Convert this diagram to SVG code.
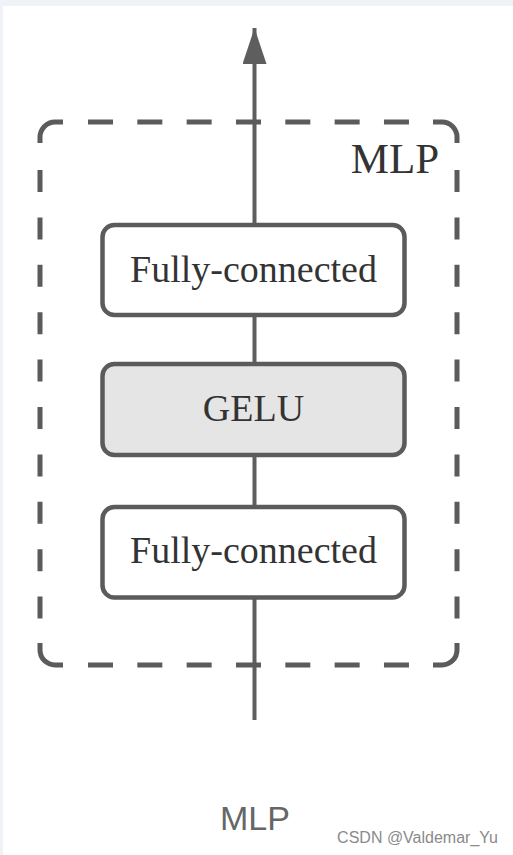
<svg xmlns="http://www.w3.org/2000/svg" width="513" height="855" viewBox="0 0 513 855">
<style>
.box{fill:#fff;stroke:#5b5b5b;stroke-width:4.5}
.gelu{fill:#e5e5e5}
.lbl{font-family:"Liberation Serif","Times New Roman",serif;font-size:38px;fill:#333;text-anchor:middle}
.dh{stroke:#5b5b5b;stroke-width:5;fill:none;stroke-dasharray:25 24.33}
.dv{stroke:#5b5b5b;stroke-width:5;fill:none;stroke-dasharray:22 25.4}
.corner{stroke:#5b5b5b;stroke-width:5;fill:none}
.wire{stroke:#5e5e5e;stroke-width:4;fill:none}
</style>
<defs>
<marker id="ah" markerWidth="36" markerHeight="24" refX="36" refY="12" orient="auto" markerUnits="userSpaceOnUse" viewBox="0 0 36 24">
<path d="M0,0 L36,12 L0,24 Z" fill="#5e5e5e"/>
</marker>
</defs>
<rect x="0" y="0" width="513" height="855" fill="#eff3f7"/>
<rect x="3" y="6" width="510" height="849" fill="#ffffff"/>
<g id="connectors">
<line class="wire" x1="254.5" y1="720" x2="254.5" y2="28" marker-end="url(#ah)"/>
</g>
<g id="mlp-group">
<path class="corner" d="M40,143 L40,137 A15,15 0 0 1 55,122 L63,122"/>
<path class="corner" d="M433,122 L442,122 A15,15 0 0 1 457,137 L457,143"/>
<path class="corner" d="M40,643 L40,650 A15,15 0 0 0 55,665 L63,665"/>
<path class="corner" d="M433,665 L442,665 A15,15 0 0 0 457,650 L457,643"/>
<line class="dh" x1="88" y1="122" x2="409" y2="122"/>
<line class="dh" x1="88" y1="665" x2="409" y2="665"/>
<line class="dv" x1="40" y1="170" x2="40" y2="619"/>
<line class="dv" x1="457" y1="170" x2="457" y2="619"/>
<text x="395" y="173" font-family="Liberation Serif, Times New Roman, serif" font-size="43" fill="#333" text-anchor="middle">MLP</text>
</g>
<g id="fc-top">
<rect class="box" x="102.5" y="225" width="302" height="90" rx="12"/>
<text class="lbl" x="253.5" y="282">Fully-connected</text>
</g>
<g id="gelu">
<rect class="box gelu" x="102.5" y="364" width="302" height="91" rx="12"/>
<text class="lbl" x="253.5" y="421">GELU</text>
</g>
<g id="fc-bottom">
<rect class="box" x="102.5" y="507" width="302" height="90.5" rx="12"/>
<text class="lbl" x="253.5" y="563">Fully-connected</text>
</g>
<text x="255" y="830" font-family="Liberation Sans, Arial, sans-serif" font-size="34" fill="#666" text-anchor="middle">MLP</text>
<text x="498" y="843" font-family="Liberation Sans, Arial, sans-serif" font-size="16" fill="#8a8a8a" text-anchor="end">CSDN @Valdemar_Yu</text>
</svg>
